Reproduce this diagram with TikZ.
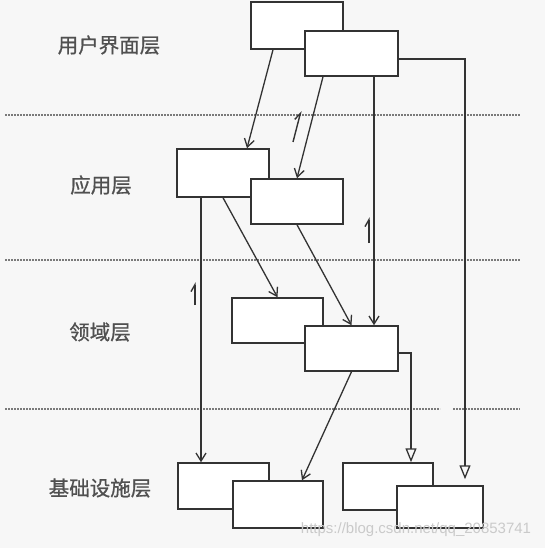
\documentclass[tikz,border=0pt]{standalone}
\usepackage{fontspec}
\newfontfamily\cjk[FakeBold=0.8]{Noto Sans CJK SC}
\setsansfont{Liberation Sans}
\usetikzlibrary{arrows.meta}
\definecolor{linec}{HTML}{333333}
\definecolor{textc}{HTML}{505050}
\definecolor{bgc}{HTML}{F7F7F7}
\definecolor{dotc}{HTML}{7A7A7A}
\definecolor{wmc}{HTML}{CACACA}
\begin{document}
\begin{tikzpicture}[x=1pt,y=-1pt,
  box/.style={draw=linec, fill=white, line width=1.5pt, inner sep=0pt},
  arr/.style={draw=linec, line width=1.3pt, -{Straight Barb[length=8pt,width=10pt,line width=1.3pt]}},
  tri/.style={draw=linec, line width=1.3pt, -{Triangle[open,length=14pt,width=11pt,line width=1.3pt]}},
  harp/.style={draw=linec, line width=1.4pt, -{Straight Barb[left,length=7pt,width=8pt,line width=1.4pt]}},
  sep/.style={draw=dotc, line width=1.2pt, dash pattern=on 1.6pt off 1.4pt},
  layer/.style={text=textc, font=\cjk\fontsize{20.5}{24}\selectfont, inner sep=0pt},
  wm/.style={text=wmc, font=\sffamily\fontsize{15}{17}\selectfont, inner sep=0pt}]
\fill[bgc] (0,0) rectangle (545,548);
\useasboundingbox (0,0) rectangle (545,548);

% separators
\draw[sep] (5,115) -- (520,115);
\draw[sep] (5,260) -- (520,260);
\draw[sep] (5,409) -- (440,409);
\draw[sep] (453,409) -- (520,409);

% layer labels
\node[layer] (l1) at (109,45) {用户界面层};
\node[layer] (l2) at (101,185) {应用层};
\node[layer] (l3) at (100,332) {领域层};
\node[layer] (l4) at (100,488) {基础设施层};

% boxes
\node[box, minimum width=92pt, minimum height=47pt] (u1) at (297,25.5) {};
\node[box, minimum width=93pt, minimum height=45pt] (u2) at (351.5,53.5) {};
\node[box, minimum width=92pt, minimum height=48pt] (a1) at (223,173) {};
\node[box, minimum width=92pt, minimum height=45pt] (a2) at (297,201.5) {};
\node[box, minimum width=91pt, minimum height=45pt] (d1) at (277.5,320.5) {};
\node[box, minimum width=93pt, minimum height=45pt] (d2) at (351.5,348.5) {};
\node[box, minimum width=91pt, minimum height=46pt] (i1) at (223.5,486) {};
\node[box, minimum width=90pt, minimum height=47pt] (i2) at (278,504.5) {};
\node[box, minimum width=90pt, minimum height=47pt] (i3) at (388,486.5) {};
\node[box, minimum width=86pt, minimum height=42pt] (i4) at (440,507) {};

% connectors
\draw[arr] ([xshift=-24pt]u1.south) -- ([xshift=24pt]a1.north);
\draw[arr] ([xshift=-28.5pt]u2.south) -- (a2.north);
\draw[arr] ([xshift=22.5pt]u2.south) -- ([xshift=22.5pt]d2.north);
\draw[tri, shorten >=6pt] ([yshift=-5.5pt]u2.east) -| ([xshift=25pt]i4.north);
\draw[arr] ([xshift=-22pt]a1.south) -- ([xshift=-22pt]a1.south |- i1.north);
\draw[arr] (a1.south) -- (d1.north);
\draw[arr] (a2.south) -- (d2.north);
\draw[tri] ([yshift=-4.5pt]d2.east) -| ([xshift=23pt]i3.north);
\draw[arr] (d2.south) -- ([xshift=24pt]i2.north);

% direction marks
\draw[harp] (293,142) -- (301,111);
\draw[harp] (369,243) -- (369,217);
\draw[harp] (195,305) -- (195,282);

% watermark
\node[wm] (w) at (416,530) {https://blog.csdn.net/qq\_20853741};
\end{tikzpicture}
\end{document}
